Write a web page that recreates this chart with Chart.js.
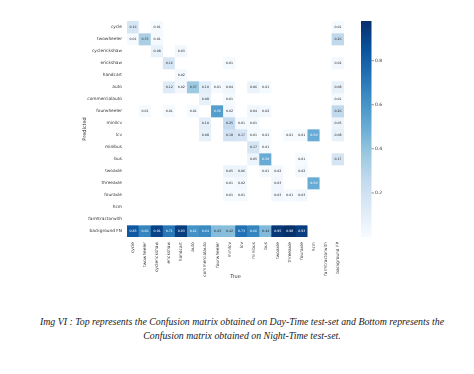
<!DOCTYPE html>
<html>
<head>
<meta charset="utf-8">
<script src="https://cdn.jsdelivr.net/npm/chart.js@4.4.0/dist/chart.umd.min.js"></script>
<style>
  html, body { margin: 0; padding: 0; background: #fff; }
  body { width: 474px; height: 374px; position: relative; overflow: hidden; }
  #wrap { position: absolute; left: 0; top: 0; width: 474px; height: 290px; }
  #caption {
    position: absolute; left: 5px; top: 315px; width: 474px;
    text-align: center; font-family: "Liberation Serif", serif; font-style: italic;
    font-size: 9.85px; line-height: 14px; color: #222;
  }
</style>
</head>
<body>
<div id="wrap"><canvas id="cm" width="474" height="290"></canvas></div>
<div id="caption">Img VI : Top represents the Confusion matrix obtained on Day-Time test-set and Bottom represents the<br>Confusion matrix obtained on Night-Time test-set.</div>
<script>
// columns (True) and rows (Predicted)
const trueLabels = ["cycle", "twowheeler", "cyclerickshaw", "erickshaw", "handcart", "auto",
    "commercialauto", "fourwheeler", "minilcv", "lcv", "minibus", "bus", "twoaxle",
    "threeaxle", "fouraxle", "hcm", "farmtractorwith", "background FP"];
const predLabels = ["cycle", "twowheeler", "cyclerickshaw", "erickshaw", "handcart", "auto",
    "commercialauto", "fourwheeler", "minilcv", "lcv", "minibus", "bus", "twoaxle",
    "threeaxle", "fouraxle", "hcm", "farmtractorwith", "background FN"];

// one row per predicted class, values per true class (0 = empty cell)
const cycleRow        = [0.16, 0, 0.01, 0, 0, 0, 0, 0, 0, 0, 0, 0, 0, 0, 0, 0, 0, 0.01];
const twowheelerRow   = [0.01, 0.33, 0.01, 0, 0, 0, 0, 0, 0, 0, 0, 0, 0, 0, 0, 0, 0, 0.26];
const cyclerickRow    = [0, 0, 0.08, 0, 0.03, 0, 0, 0, 0, 0, 0, 0, 0, 0, 0, 0, 0, 0];
const erickshawRow    = [0, 0, 0, 0.16, 0, 0, 0, 0, 0.01, 0, 0, 0, 0, 0, 0, 0, 0, 0.02];
const handcartRow     = [0, 0, 0, 0, 0.02, 0, 0, 0, 0, 0, 0, 0, 0, 0, 0, 0, 0, 0];
const autoRow         = [0, 0, 0, 0.12, 0.02, 0.37, 0.10, 0.01, 0.04, 0, 0.06, 0.01, 0, 0, 0, 0, 0, 0.08];
const commautoRow     = [0, 0, 0, 0, 0, 0, 0.08, 0, 0.01, 0, 0, 0, 0, 0, 0, 0, 0, 0.01];
const fourwheelerRow  = [0, 0.01, 0, 0.01, 0, 0.01, 0, 0.56, 0.02, 0, 0.04, 0.02, 0, 0, 0, 0, 0, 0.26];
const minilcvRow      = [0, 0, 0, 0, 0, 0, 0.10, 0, 0.25, 0.01, 0.01, 0, 0, 0, 0, 0, 0, 0.05];
const lcvRow          = [0, 0, 0, 0, 0, 0, 0.08, 0, 0.18, 0.17, 0.01, 0.01, 0, 0.01, 0.01, 0.50, 0, 0.08];
const minibusRow      = [0, 0, 0, 0, 0, 0, 0, 0, 0, 0, 0.17, 0.01, 0, 0, 0, 0, 0, 0];
const busRow          = [0, 0, 0, 0, 0, 0, 0, 0, 0, 0, 0.05, 0.50, 0, 0, 0.01, 0, 0, 0.17];
const twoaxleRow      = [0, 0, 0, 0, 0, 0, 0, 0, 0.05, 0.06, 0, 0.01, 0.02, 0, 0.02, 0, 0, 0];
const threeaxleRow    = [0, 0, 0, 0, 0, 0, 0, 0, 0.01, 0.02, 0, 0, 0.03, 0, 0, 0.50, 0, 0];
const fouraxleRow     = [0, 0, 0, 0, 0, 0, 0, 0, 0.01, 0.01, 0, 0, 0.03, 0.01, 0.03, 0, 0, 0];
const hcmRow          = [0, 0, 0, 0, 0, 0, 0, 0, 0, 0, 0, 0, 0, 0, 0, 0, 0, 0];
const farmtractorRow  = [0, 0, 0, 0, 0, 0, 0, 0, 0, 0, 0, 0, 0, 0, 0, 0, 0, 0];
const backgroundFNRow = [0.83, 0.66, 0.91, 0.71, 0.93, 0.61, 0.64, 0.43, 0.42, 0.73, 0.66, 0.44, 0.95, 0.98, 0.93, 0, 0, 0];

const colorbarTicks = [0.2, 0.4, 0.6, 0.8];

const rows = [cycleRow, twowheelerRow, cyclerickRow, erickshawRow, handcartRow, autoRow,
    commautoRow, fourwheelerRow, minilcvRow, lcvRow, minibusRow, busRow, twoaxleRow,
    threeaxleRow, fouraxleRow, hcmRow, farmtractorRow, backgroundFNRow];
const vmax = Math.max(...rows.flat());

// matplotlib "Blues"
const bluesStops = ["#f7fbff", "#deebf7", "#c6dbef", "#9ecae1", "#6baed6",
    "#4292c6", "#2171b5", "#08519c", "#08306b"];

function hexToRgb(h) {
    return [1, 3, 5].map(i => parseInt(h.slice(i, i + 2), 16));
}

function blues(t) {
    t = Math.max(0, Math.min(1, t));
    const pos = t * (bluesStops.length - 1);
    const i = Math.min(Math.floor(pos), bluesStops.length - 2);
    const f = pos - i;
    const a = hexToRgb(bluesStops[i]), b = hexToRgb(bluesStops[i + 1]);
    const c = a.map((v, k) => Math.round(v + (b[k] - v) * f));
    return `rgb(${c[0]},${c[1]},${c[2]})`;
}

// same rule seaborn uses for annotation colour
function textColor(v) {
    const m = blues(v / vmax).match(/\d+/g).map(Number);
    const lin = m.map(c => {
        c /= 255;
        return c <= 0.03928 ? c / 12.92 : Math.pow((c + 0.055) / 1.055, 2.4);
    });
    const lum = 0.2126 * lin[0] + 0.7152 * lin[1] + 0.0722 * lin[2];
    return lum > 0.408 ? "#262626" : "#ffffff";
}

const font = "'DejaVu Sans', sans-serif";
const txt = "#333333";

// scales add label padding to the chart area, we want the area fixed
const noPad = s => { s.paddingTop = 0; s.paddingBottom = 0; };

const heatmapExtras = {
    id: "heatmapExtras",
    afterDatasetsDraw(chart) {
        const ctx = chart.ctx;
        ctx.save();
        ctx.font = "3.2px 'DejaVu Sans'";
        ctx.textAlign = "center";
        ctx.textBaseline = "middle";
        rows.forEach((row, r) => {
            const meta = chart.getDatasetMeta(r);
            row.forEach((v, c) => {
                if (!v) return;
                const bar = meta.data[c];
                ctx.fillStyle = textColor(v);
                ctx.fillText(v.toFixed(2), bar.x, (bar.y + bar.base) / 2);
            });
        });

        // colorbar
        const cb = chart.scales.cb;
        const x0 = chart.chartArea.right + 17;
        const w = 10.5;
        const top = cb.getPixelForValue(vmax);
        const bottom = cb.getPixelForValue(0);
        const grad = ctx.createLinearGradient(0, bottom, 0, top);
        bluesStops.forEach((c, i) => grad.addColorStop(i / (bluesStops.length - 1), c));
        ctx.fillStyle = grad;
        ctx.fillRect(x0, top, w, bottom - top);
        ctx.strokeStyle = txt;
        ctx.lineWidth = 0.5;
        colorbarTicks.forEach(t => {
            const y = cb.getPixelForValue(t);
            ctx.beginPath();
            ctx.moveTo(x0 + w, y);
            ctx.lineTo(x0 + w + 2.5, y);
            ctx.stroke();
        });
        ctx.restore();
    }
};

new Chart(document.getElementById("cm"), {
    type: "bar",
    data: {
        labels: trueLabels,
        datasets: rows.map(row => ({
            data: trueLabels.map(() => 1),
            backgroundColor: row.map(v => v > 0 ? blues(v / vmax) : "#ffffff"),
            borderWidth: 0,
            barPercentage: 1,
            categoryPercentage: 1
        }))
    },
    options: {
        responsive: false,
        animation: false,
        layout: { padding: { left: 80, top: 21, right: 0, bottom: 0 } },
        plugins: { legend: { display: false }, tooltip: { enabled: false } },
        scales: {
            x: {
                stacked: true,
                grid: { display: false, drawTicks: false },
                border: { display: false },
                afterFit: s => { s.height = 53; },
                ticks: {
                    autoSkip: false, minRotation: 90, maxRotation: 90, padding: 5,
                    color: txt, font: { family: font, size: 4.3 }
                },
                title: {
                    display: true, text: "True", color: txt,
                    font: { family: font, size: 5 }, padding: { top: 0, bottom: 10 }
                }
            },
            y: {
                type: "linear", min: 0, max: predLabels.length, reverse: true, stacked: true,
                grid: { display: false, drawTicks: false },
                border: { display: false },
                afterBuildTicks: s => { s.ticks = predLabels.map((_, i) => ({ value: i + 0.5 })); },
                afterFit: s => { s.width = 47; noPad(s); },
                ticks: {
                    autoSkip: false, padding: 5, color: txt,
                    font: { family: font, size: 4.3 },
                    callback: (v, i) => predLabels[i]
                },
                title: {
                    display: true, text: "Predicted", color: txt,
                    font: { family: font, size: 5 }, padding: { top: 2, bottom: 0 }
                }
            },
            cb: {
                type: "linear", position: "right", min: 0, max: vmax, display: true,
                grid: { display: false, drawTicks: false },
                border: { display: false },
                afterBuildTicks: s => { s.ticks = colorbarTicks.map(v => ({ value: v })); },
                afterFit: s => { s.width = 130; noPad(s); },
                ticks: {
                    padding: 31, color: txt, font: { family: font, size: 4.5 },
                    callback: v => v.toFixed(1)
                }
            }
        }
    },
    plugins: [heatmapExtras]
});
</script>
</body>
</html>
